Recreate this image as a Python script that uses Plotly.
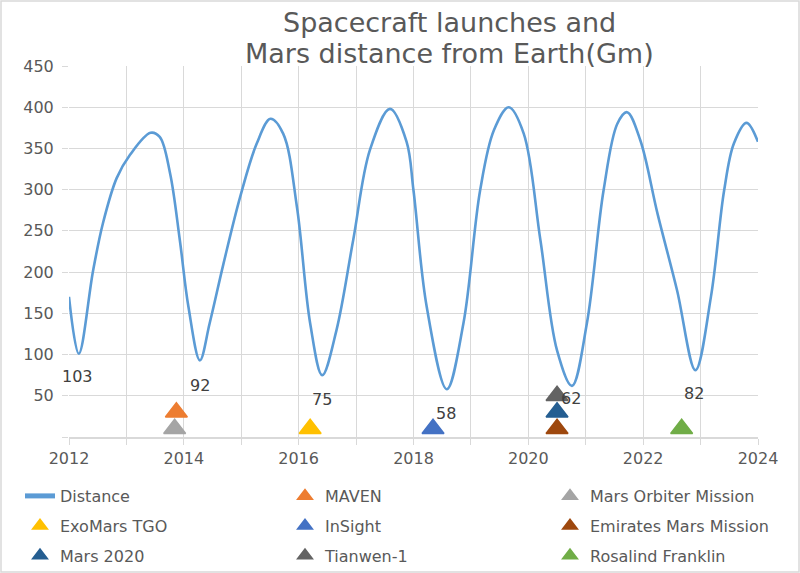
import plotly.graph_objects as go

# ---- data ----
distance_years = [2012.00, 2012.17, 2012.42, 2012.59, 2012.83, 2013.06, 2013.42, 2013.58,
                  2013.76, 2013.93, 2014.08, 2014.28, 2014.45, 2014.69, 2014.98, 2015.27,
                  2015.51, 2015.73, 2015.97, 2016.20, 2016.41, 2016.66, 2016.95, 2017.24,
                  2017.59, 2017.88, 2018.00, 2018.23, 2018.58, 2018.87, 2019.16, 2019.40,
                  2019.66, 2019.92, 2020.21, 2020.50, 2020.76, 2021.02, 2021.31, 2021.55,
                  2021.72, 2021.95, 2022.25, 2022.59, 2022.91, 2023.18, 2023.41, 2023.58,
                  2023.80, 2024.00]
distance_gm = [170, 101, 202, 259, 314, 342, 369, 364,
               320, 239, 158, 93, 138, 210, 291, 356,
               386, 368, 279, 138, 75, 130, 239, 348,
               398, 358, 299, 158, 58, 138, 299, 372,
               400, 368, 239, 105, 62, 138, 299, 380,
               394, 360, 271, 178, 81, 170, 299, 356,
               381, 358]

missions = ["MAVEN", "Mars Orbiter Mission", "ExoMars TGO", "InSight",
            "Emirates Mars Mission", "Mars 2020", "Tianwen-1", "Rosalind Franklin"]
launch_years = [2013.87, 2013.84, 2016.20, 2018.34, 2020.50, 2020.50, 2020.50, 2022.67]
launch_values = [30, 10, 10, 10, 10, 30, 50, 10]
mission_colors = ["#ed7d31", "#a5a5a5", "#ffc000", "#4472c4",
                  "#9e480e", "#255e91", "#636363", "#70ad47"]

closest_years = [2012.15, 2014.28, 2016.40, 2018.57, 2020.74, 2022.89]
closest_gm = [103, 92, 75, 58, 62, 82]

x_ticks = list(range(2012, 2025))
y_ticks = list(range(0, 451, 50))

title_lines = ["Spacecraft launches and", "Mars distance from Earth(Gm)"]

# ---- legend columns (trace name -> legend id / rank) ----
legend_of = {"Distance": "legend", "ExoMars TGO": "legend", "Mars 2020": "legend",
             "MAVEN": "legend2", "InSight": "legend2", "Tianwen-1": "legend2",
             "Mars Orbiter Mission": "legend3", "Emirates Mars Mission": "legend3",
             "Rosalind Franklin": "legend3"}
legend_rank = {"Distance": 1, "ExoMars TGO": 2, "Mars 2020": 3,
               "MAVEN": 1, "InSight": 2, "Tianwen-1": 3,
               "Mars Orbiter Mission": 1, "Emirates Mars Mission": 2, "Rosalind Franklin": 3}

FONT = "DejaVu Sans"
GREY = "#595959"
GRID = "#d9d9d9"

fig = go.Figure()
fig.add_trace(go.Scatter(
    x=distance_years, y=distance_gm, mode="lines", name="Distance",
    line=dict(color="#5b9bd5", width=2.6, shape="spline", smoothing=1.0),
    legend=legend_of["Distance"], legendrank=legend_rank["Distance"],
    legendgroup="Distance", hoverinfo="x+y"))

for name, xv, yv, col in zip(missions, launch_years, launch_values, mission_colors):
    fig.add_trace(go.Scatter(
        x=[xv], y=[yv], mode="markers", name=name,
        marker=dict(symbol="triangle-up", size=19, color=col, line=dict(color=col, width=1.5)),
        legend=legend_of[name], legendrank=legend_rank[name], legendgroup=name))

label_shift = {62: -13}
for xv, yv in zip(closest_years, closest_gm):
    fig.add_annotation(x=xv, y=yv, text=str(yv), showarrow=False,
                       yshift=label_shift.get(yv, -24),
                       font=dict(family=FONT, size=16, color="#404040"))

W, H = 800, 573
ml, mr, mt, mb = 69, 42, 66, 136
pw, ph = W - ml - mr, H - mt - mb

# title (two centred lines)
title_baselines = [33, 64]
for line, base in zip(title_lines, title_baselines):
    fig.add_annotation(xref="paper", yref="paper", x=(449 - ml) / pw,
                       y=1 + (mt - base) / ph, yanchor="bottom", yshift=-7,
                       text=line, showarrow=False,
                       font=dict(family=FONT, size=27, color=GREY))

# outer chart border
fig.add_shape(type="rect", xref="paper", yref="paper",
              x0=(-ml + 1) / pw, x1=1 + (mr - 1) / pw,
              y0=(-mb + 1) / ph, y1=1 + (mt - 1) / ph,
              line=dict(color=GRID, width=1.5), fillcolor="rgba(0,0,0,0)", layer="below")

legend_common = dict(orientation="v", xref="container", yref="container",
                     xanchor="left", yanchor="top", traceorder="grouped",
                     tracegroupgap=6, itemsizing="constant", bgcolor="rgba(0,0,0,0)",
                     font=dict(family=FONT, size=16, color=GREY))
legend_top = 1 - 479 / H

fig.update_layout(
    width=W, height=H,
    margin=dict(l=ml, r=mr, t=mt, b=mb, autoexpand=False),
    paper_bgcolor="white", plot_bgcolor="white",
    font=dict(family=FONT, size=16, color=GREY),
    xaxis=dict(range=[2012, 2024], tickvals=x_ticks,
               ticktext=[str(v) if v % 2 == 0 else "" for v in x_ticks],
               showgrid=True, gridcolor=GRID, gridwidth=1,
               ticks="outside", ticklen=6, tickcolor=GRID,
               showline=True, linecolor=GRID, linewidth=1.5,
               zeroline=False, tickfont=dict(family=FONT, size=16, color=GREY)),
    yaxis=dict(range=[0, 450], tickvals=y_ticks,
               ticktext=["" if v == 0 else str(v) for v in y_ticks],
               showgrid=True, gridcolor=GRID, gridwidth=1,
               ticks="outside", ticklen=6, tickcolor=GRID, ticklabelstandoff=5,
               showline=False, zeroline=False,
               tickfont=dict(family=FONT, size=16, color=GREY)),
    legend=dict(x=20 / W, y=legend_top, **legend_common),
    legend2=dict(x=285 / W, y=legend_top, **legend_common),
    legend3=dict(x=550 / W, y=legend_top, **legend_common),
    showlegend=True,
)

fig.write_html("out.html", config={"displayModeBar": False},
               post_script="document.body.style.margin='0';")
